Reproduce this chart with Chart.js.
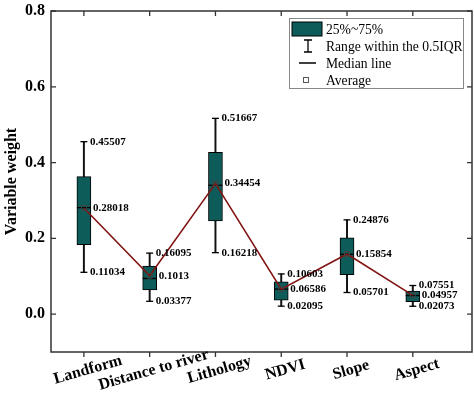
<!DOCTYPE html>
<html>
<head>
<meta charset="utf-8">
<script src="https://cdn.jsdelivr.net/npm/chart.js@4.4.1/dist/chart.umd.min.js"></script>
<style>
  body { margin: 0; background: #fff; }
  canvas { display: block; }
</style>
</head>
<body>
<canvas id="chart" width="474" height="399"></canvas>
<script>
// factor names and their box statistics
var categories = ['Landform', 'Distance to river', 'Lithology', 'NDVI', 'Slope', 'Aspect'];
var maxVals  = [0.45507, 0.16095, 0.51667, 0.10603, 0.24876, 0.07551];
var minVals  = [0.11034, 0.03377, 0.16218, 0.02095, 0.05701, 0.02073];
var meanVals = [0.28018, 0.1013, 0.34454, 0.06586, 0.15854, 0.04957];
var q1Vals   = [0.183, 0.064, 0.246, 0.037, 0.104, 0.033];
var q3Vals   = [0.363, 0.127, 0.427, 0.085, 0.201, 0.061];
var medVals  = [0.281, 0.094, 0.340, 0.066, 0.158, 0.049];
var yTicks   = [0, 0.2, 0.4, 0.6, 0.8];
var legendItems = ['25%~75%', 'Range within the 0.5IQR', 'Median line', 'Average'];

var SERIF = '"Liberation Serif", "Times New Roman", serif';
var TEAL = '#0d5c5a';
var RED = '#821414';

function xy(vals) {
  return vals.map(function (v, i) { return { x: i + 1, y: v }; });
}
function range(lo, hi) {
  return lo.map(function (v, i) { return { x: i + 1, y: [v, hi[i]] }; });
}

// frame, inner ticks, x labels, value labels, legend
var decor = {
  id: 'decor',
  afterDraw: function (chart) {
    var ctx = chart.ctx, a = chart.chartArea;
    var xs = chart.scales.x, ys = chart.scales.y;
    ctx.save();
    ctx.strokeStyle = '#333';
    ctx.lineWidth = 1.5;
    ctx.strokeRect(a.left, a.top, a.right - a.left, a.bottom - a.top);

    ctx.lineWidth = 1.3;
    ctx.beginPath();
    yTicks.forEach(function (v) {
      var y = ys.getPixelForValue(v);
      ctx.moveTo(a.left, y); ctx.lineTo(a.left + 5, y);
      ctx.moveTo(a.right, y); ctx.lineTo(a.right - 5, y);
    });
    categories.forEach(function (c, i) {
      var x = xs.getPixelForValue(i + 1);
      ctx.moveTo(x, a.top); ctx.lineTo(x, a.top + 5);
      ctx.moveTo(x, a.bottom); ctx.lineTo(x, a.bottom + 5);
    });
    ctx.stroke();

    // rotated category labels
    ctx.fillStyle = '#000';
    ctx.font = 'bold 16px ' + SERIF;
    ctx.textAlign = 'center';
    ctx.textBaseline = 'middle';
    categories.forEach(function (c, i) {
      var x = xs.getPixelForValue(i + 1) + 4;
      ctx.save();
      ctx.translate(x, a.bottom + 18);
      ctx.rotate(-16 * Math.PI / 180);
      ctx.fillText(c, 0, 0);
      ctx.restore();
    });

    // value labels
    ctx.font = 'bold 11px ' + SERIF;
    ctx.textAlign = 'left';
    categories.forEach(function (c, i) {
      var x = xs.getPixelForValue(i + 1);
      ctx.fillText(String(maxVals[i]), x + 6, ys.getPixelForValue(maxVals[i]));
      ctx.fillText(String(meanVals[i]), x + 9, ys.getPixelForValue(meanVals[i]));
      ctx.fillText(String(minVals[i]), x + 6, ys.getPixelForValue(minVals[i]));
    });

    // legend box
    var lx = a.left + 238, ly = a.top + 7, lw = 174, lh = 70;
    ctx.fillStyle = '#fff';
    ctx.fillRect(lx, ly, lw, lh);
    ctx.strokeStyle = '#888';
    ctx.lineWidth = 1;
    ctx.strokeRect(lx + 0.5, ly + 0.5, lw, lh);

    var rows = [ly + 11, ly + 28, ly + 45, ly + 62];
    ctx.fillStyle = TEAL;
    ctx.fillRect(lx + 3, rows[0] - 7, 30, 14);
    ctx.strokeStyle = '#000';
    ctx.strokeRect(lx + 3, rows[0] - 7, 30, 14);

    ctx.lineWidth = 1.3;
    ctx.beginPath();
    ctx.moveTo(lx + 19, rows[1] - 6); ctx.lineTo(lx + 19, rows[1] + 6);
    ctx.moveTo(lx + 15, rows[1] - 6); ctx.lineTo(lx + 23, rows[1] - 6);
    ctx.moveTo(lx + 15, rows[1] + 6); ctx.lineTo(lx + 23, rows[1] + 6);
    ctx.moveTo(lx + 10, rows[2]); ctx.lineTo(lx + 27, rows[2]);
    ctx.stroke();
    ctx.strokeStyle = '#555';
    ctx.lineWidth = 1;
    ctx.strokeRect(lx + 14.5, rows[3] - 2.5, 5, 5);

    ctx.fillStyle = '#000';
    ctx.font = '13.6px ' + SERIF;
    legendItems.forEach(function (t, i) {
      ctx.fillText(t, lx + 37, rows[i] + 1);
    });
    ctx.restore();
  }
};

new Chart(document.getElementById('chart'), {
  type: 'bar',
  data: {
    datasets: [
      {
        type: 'line',
        data: xy(meanVals),
        borderColor: RED,
        borderWidth: 1.6,
        pointStyle: 'rect',
        pointRadius: 3.5,
        pointBackgroundColor: 'rgba(0,0,0,0)',
        pointBorderColor: '#444',
        pointBorderWidth: 1,
        order: 1
      },
      {
        type: 'scatter',
        data: xy(medVals),
        pointStyle: 'line',
        pointRadius: 7,
        borderColor: '#000',
        borderWidth: 1.3,
        order: 3
      },
      {
        data: range(q1Vals, q3Vals),
        backgroundColor: TEAL,
        borderColor: '#000',
        borderWidth: 1,
        borderSkipped: false,
        barThickness: 14,
        grouped: false,
        order: 4
      },
      {
        type: 'scatter',
        data: xy(maxVals).concat(xy(minVals)),
        pointStyle: 'line',
        pointRadius: 3.5,
        borderColor: '#000',
        borderWidth: 1.3,
        order: 5
      },
      {
        data: range(minVals, maxVals),
        backgroundColor: '#111',
        borderWidth: 0,
        barThickness: 1.3,
        grouped: false,
        order: 6
      }
    ]
  },
  options: {
    responsive: false,
    animation: false,
    layout: { autoPadding: false, padding: { top: 11, right: 2, bottom: 47, left: 0 } },
    plugins: { legend: { display: false }, tooltip: { enabled: false } },
    scales: {
      x: {
        type: 'linear',
        offset: false,
        min: 0.5,
        max: 6.9,
        grid: { display: false, drawTicks: false },
        border: { display: false },
        ticks: { display: false }
      },
      y: {
        min: -0.1,
        max: 0.8,
        afterBuildTicks: function (s) {
          s.ticks = yTicks.map(function (v) { return { value: v }; });
        },
        afterFit: function (s) {
          s.width = 51;
          s.paddingTop = 0;
          s.paddingBottom = 0;
        },
        grid: { display: false, drawTicks: false },
        border: { display: false },
        ticks: {
          padding: 6,
          color: '#000',
          font: { family: SERIF, size: 16, weight: 'bold' },
          callback: function (v) { return Number(v).toFixed(1); }
        },
        title: {
          display: true,
          text: 'Variable weight',
          color: '#000',
          padding: { top: 2, bottom: 2 },
          font: { family: SERIF, size: 16, weight: 'bold' }
        }
      }
    }
  },
  plugins: [decor]
});
</script>
</body>
</html>
